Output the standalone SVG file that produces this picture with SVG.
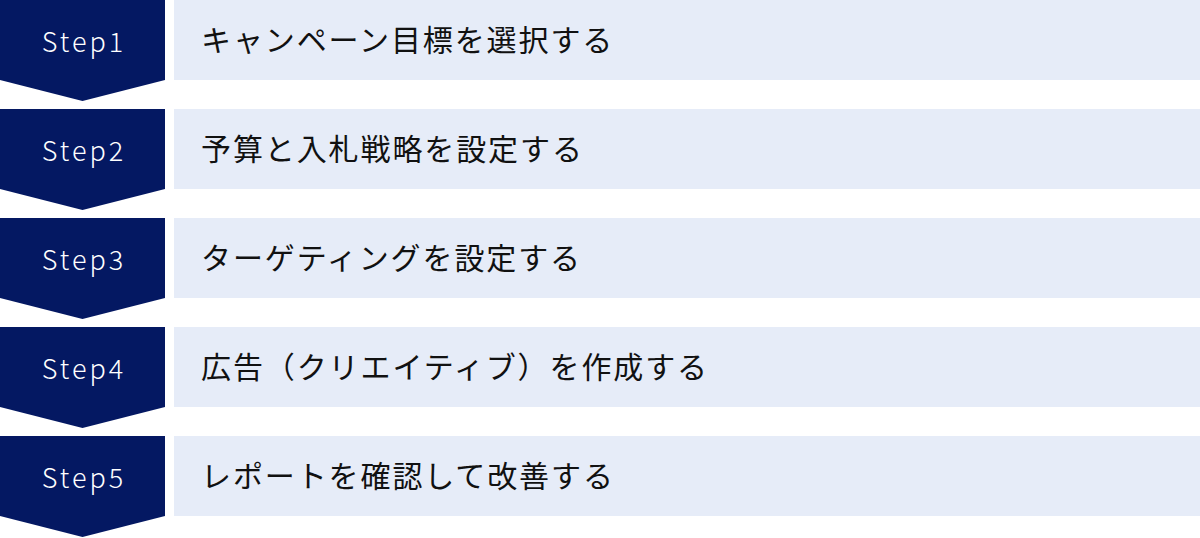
<svg xmlns="http://www.w3.org/2000/svg" width="1200" height="538" viewBox="0 0 1200 538">
<style>
.chev{fill:#041862}
.box{fill:#E6ECF8}
.st{font-family:"Noto Sans CJK JP","Noto Sans",sans-serif;font-size:27px;font-weight:300;letter-spacing:3px;fill:#ffffff;text-anchor:middle}
.lb{font-family:"Noto Sans CJK JP","Noto Sans",sans-serif;font-size:30px;letter-spacing:1.9px;fill:#111111}
</style>
<g id="step1">
<polygon class="chev" points="0,0 165,0 165,80 82.5,101 0,80"/>
<rect class="box" x="174" y="0" width="1026" height="80"/>
<text class="st" x="84" y="52">Step1</text>
<text class="lb" x="201" y="51">キャンペーン目標を選択する</text>
</g>
<g id="step2">
<polygon class="chev" points="0,109 165,109 165,189 82.5,210 0,189"/>
<rect class="box" x="174" y="109" width="1026" height="80"/>
<text class="st" x="84" y="161">Step2</text>
<text class="lb" x="201" y="160">予算と入札戦略を設定する</text>
</g>
<g id="step3">
<polygon class="chev" points="0,218 165,218 165,298 82.5,319 0,298"/>
<rect class="box" x="174" y="218" width="1026" height="80"/>
<text class="st" x="84" y="270">Step3</text>
<text class="lb" x="201" y="269">ターゲティングを設定する</text>
</g>
<g id="step4">
<polygon class="chev" points="0,327 165,327 165,407 82.5,428 0,407"/>
<rect class="box" x="174" y="327" width="1026" height="80"/>
<text class="st" x="84" y="379">Step4</text>
<text class="lb" x="201" y="378">広告（クリエイティブ）を作成する</text>
</g>
<g id="step5">
<polygon class="chev" points="0,436 165,436 165,516 82.5,537 0,516"/>
<rect class="box" x="174" y="436" width="1026" height="80"/>
<text class="st" x="84" y="488">Step5</text>
<text class="lb" x="201" y="487">レポートを確認して改善する</text>
</g>
<g id="connectors"></g>
</svg>
